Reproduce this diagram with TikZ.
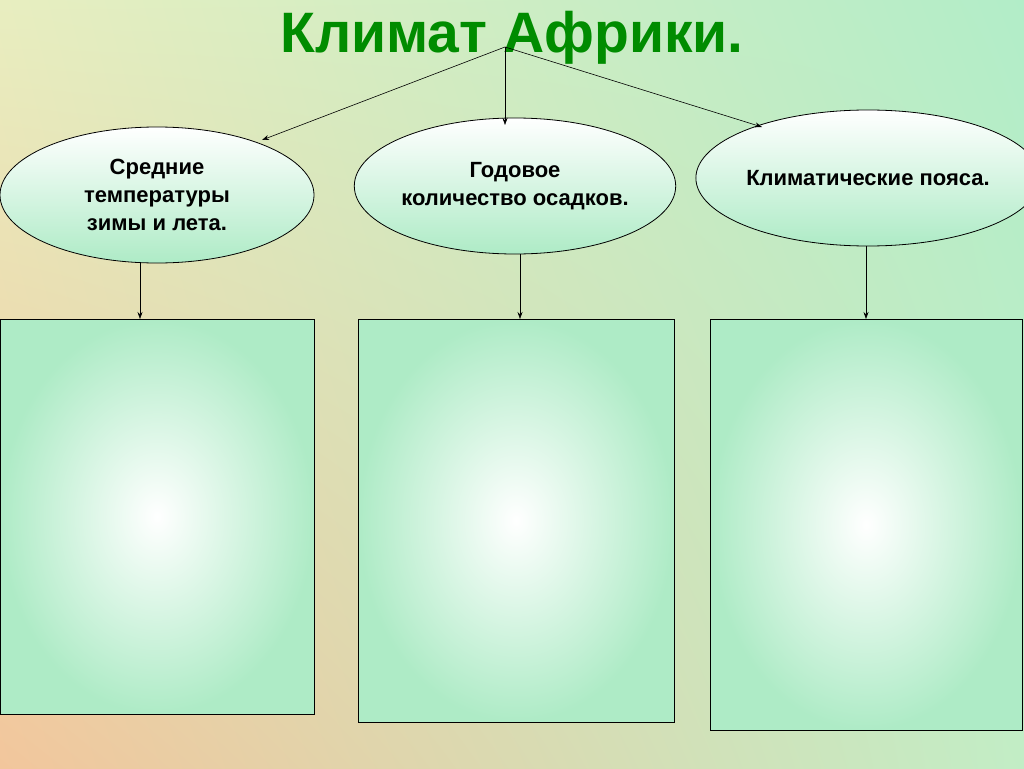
\documentclass[tikz,border=0pt]{standalone}
\usepackage{fontspec}
\setmainfont{Liberation Sans}
\usetikzlibrary{shapes.geometric,arrows.meta,shadings}
\begin{document}
\begin{tikzpicture}[x=1pt,y=-1pt,
  oval/.style={ellipse,draw=black,line width=0.8pt,minimum width=314pt,minimum height=136pt,inner sep=0pt,top color=white,bottom color=mint,align=center,font=\fontsize{22}{28}\selectfont\bfseries},
  panel/.style={draw=black,line width=0.8pt,inner color=white,outer color=mint},
  conn/.style={-{Stealth[length=7pt,width=5pt]},line width=0.6pt}]
\definecolor{mint}{HTML}{AEEBC6}
\definecolor{peach}{HTML}{F2C69C}
\definecolor{paleyg}{HTML}{E8EEC0}
\definecolor{bgr}{HTML}{B2EDC8}
\useasboundingbox (0,0) rectangle (1024,768);
\shade[upper left=paleyg,upper right=bgr,lower left=peach,lower right=bgr!70!paleyg] (0,0) rectangle (1024,768);
\node[font=\fontsize{57}{62}\selectfont\bfseries,text=green!55!black] (title) at (512,38) {Климат Африки.};
\coordinate (top) at (505,47);
\node[oval] (e1) at (157,195) {Средние\\температуры\\зимы и лета.};
\node[oval] (e2) at (515,186) {Годовое\\количество осадков.};
\node[oval] (e3) at (868,178) {Климатические пояса.};
\path[panel] (0,319) rectangle (314,714);
\path[panel] (358,319) rectangle (674,722);
\path[panel] (710,319) rectangle (1022,730);
\coordinate (r1) at (140,319); \coordinate (r2) at (520,319); \coordinate (r3) at (866,319);
\coordinate (b1) at (140,262); \coordinate (b2) at (520,254); \coordinate (b3) at (866,246);
\coordinate (t1) at (262,140); \coordinate (t2) at (505,125); \coordinate (t3) at (762,127);
\draw[conn] (top) -- (t1);
\draw[conn] (top) -- (t2);
\draw[conn] (top) -- (t3);
\draw[conn] (b1) -- (r1);
\draw[conn] (b2) -- (r2);
\draw[conn] (b3) -- (r3);
\end{tikzpicture}
\end{document}
